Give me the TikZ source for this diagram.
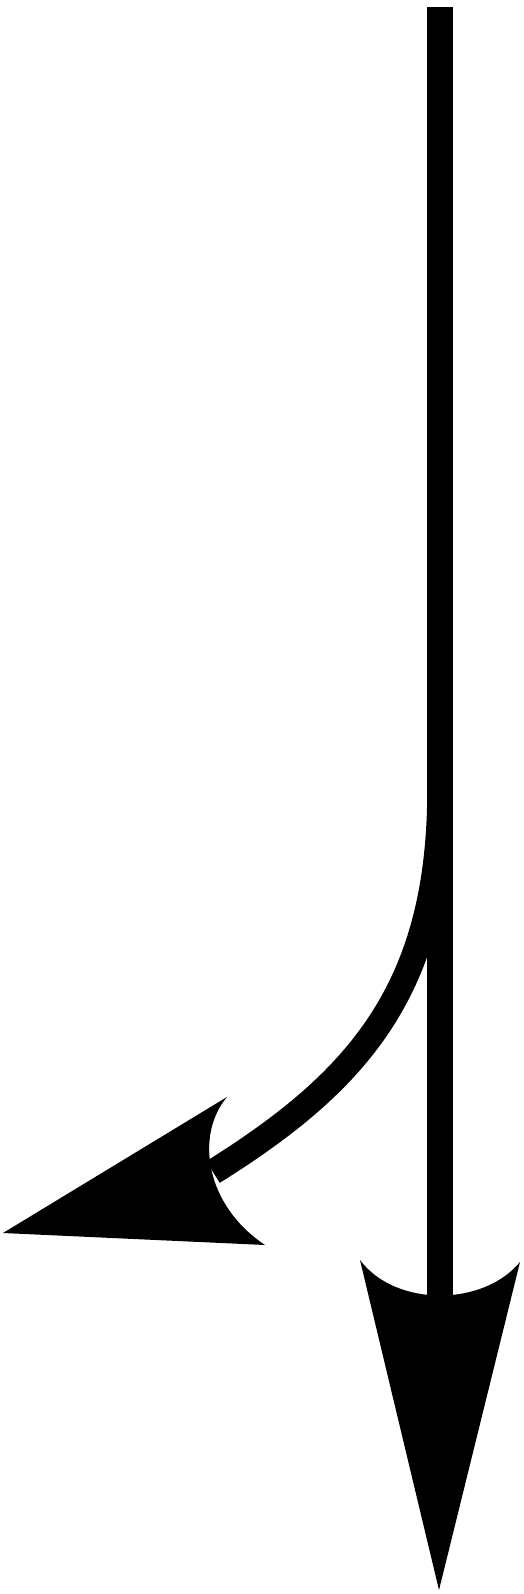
\documentclass[tikz,border=0pt]{standalone}
\usetikzlibrary{positioning}
\begin{document}
\begin{tikzpicture}[x=0.01cm, y=-0.01cm,
	shaft/.style={draw=black, line width=0.255cm},
	head/.style={fill=black}]

\useasboundingbox (0,0) rectangle (523,1594);

% Points
\coordinate (top) at (440,7);
\coordinate (fork) at (440,790);
\coordinate (mainbase) at (440,1305);
\coordinate (maintip) at (439,1590);
\coordinate (mainL) at (360,1260);
\coordinate (mainR) at (520,1262);
\coordinate (sidebase) at (213,1172);
\coordinate (sidetip) at (3,1233);
\coordinate (sideU) at (227,1097);
\coordinate (sideD) at (265,1245);

% Shafts
\draw[shaft] (top) -- (mainbase);
\draw[shaft] (fork) .. controls +(0,200) and +(144,-90) .. (sidebase);

% Heads
\fill[head] (maintip) -- (mainL) .. controls (395,1307) and (483,1307) .. (mainR) -- cycle;
\fill[head] (sidetip) -- (sideU) .. controls (195,1135) and (205,1205) .. (sideD) -- cycle;
\end{tikzpicture}
\end{document}
